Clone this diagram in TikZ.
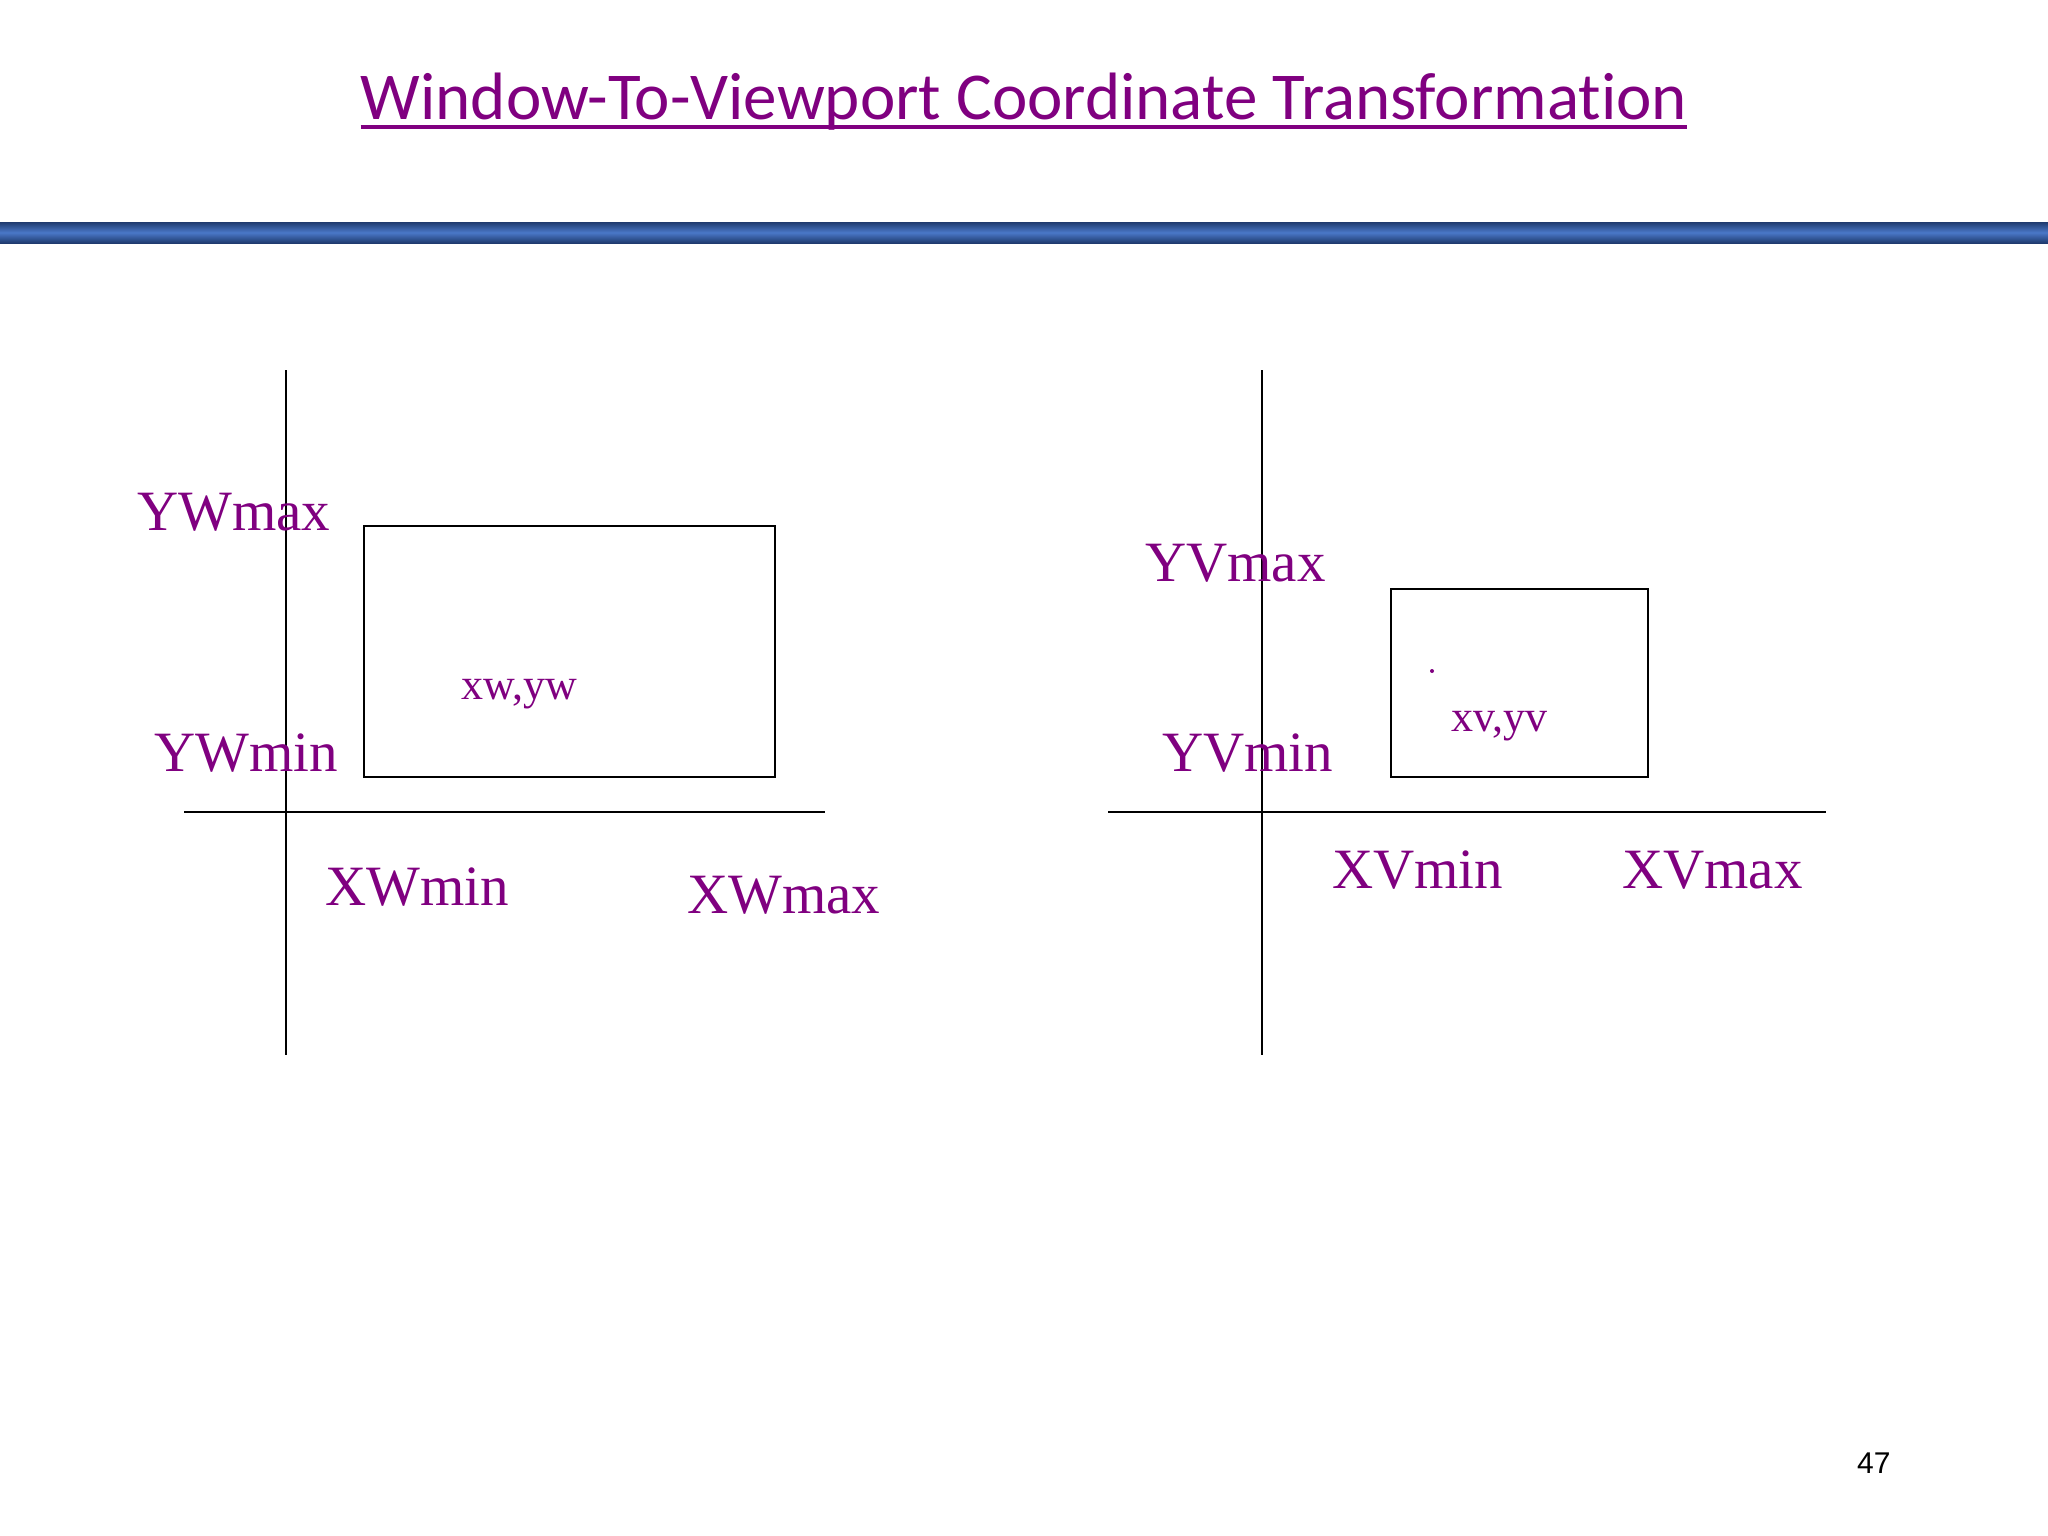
\documentclass[tikz,border=0pt]{standalone}
\usepackage{fontspec}
\setmainfont{Liberation Serif}
\newfontfamily\titlefont[Ligatures=NoCommon]{Carlito}
\newfontfamily\numfont{Liberation Sans}
\definecolor{lab}{HTML}{800080}
\definecolor{bardark}{HTML}{1F3A6E}
\definecolor{barlight}{HTML}{4A78C8}
\tikzset{
  axis/.style={draw=black, line width=1.6pt},
  box/.style={draw=black, line width=2pt},
  biglab/.style={anchor=base west, inner sep=0pt, text=lab, font=\fontsize{57}{57}\selectfont},
  smalllab/.style={anchor=base west, inner sep=0pt, text=lab, font=\fontsize{44}{44}\selectfont},
}
\begin{document}
\begin{tikzpicture}[x=1pt,y=-1pt]
\useasboundingbox (0,0) rectangle (2048,1536);
\fill[white] (0,0) rectangle (2048,1536);
% title
\node[anchor=base, inner sep=0pt, text=lab, font=\titlefont\fontsize{67}{67}\selectfont] (title) at (1024,120) {Window-To-Viewport Coordinate Transformation};
\draw[lab, line width=4pt] (title.west |- 0,127) -- (title.east |- 0,127);
% blue bar
\shade[top color=bardark, bottom color=bardark, middle color=barlight] (0,222) rectangle (2048,243);
% left axes
\coordinate (lvt) at (286,370); \coordinate (lvb) at (286,1055);
\coordinate (lhl) at (184,812); \coordinate (lhr) at (825,812);
\draw[axis] (lvt) -- (lvb);
\draw[axis] (lhl) -- (lhr);
\node[box, minimum width=411pt, minimum height=251pt, inner sep=0pt, anchor=north west] (win) at (363,525) {};
% right axes
\coordinate (rvt) at (1262,370); \coordinate (rvb) at (1262,1055);
\coordinate (rhl) at (1108,812); \coordinate (rhr) at (1826,812);
\draw[axis] (rvt) -- (rvb);
\draw[axis] (rhl) -- (rhr);
\node[box, minimum width=257pt, minimum height=188pt, inner sep=0pt, anchor=north west] (vp) at (1390,588) {};
% labels
\node[biglab] (ywmax) at (137,530) {YWmax};
\node[biglab] (ywmin) at (154,771) {YWmin};
\node[smalllab] (xwyw) at (461,699) {xw,yw};
\node[biglab] (xwmin) at (325,905) {XWmin};
\node[biglab] (xwmax) at (687,913) {XWmax};
\node[biglab] (yvmax) at (1145,581) {YVmax};
\node[biglab] (yvmin) at (1162,771) {YVmin};
\node[smalllab] (xvyv) at (1451,731) {xv,yv};
\fill[lab] (1432,671) circle (2pt);
\node[biglab] (xvmin) at (1332,888) {XVmin};
\node[biglab] (xvmax) at (1622,888) {XVmax};
\node[anchor=base west, inner sep=0pt, font=\numfont\fontsize{30}{30}\selectfont] (pg) at (1857,1473) {47};
\end{tikzpicture}
\end{document}
